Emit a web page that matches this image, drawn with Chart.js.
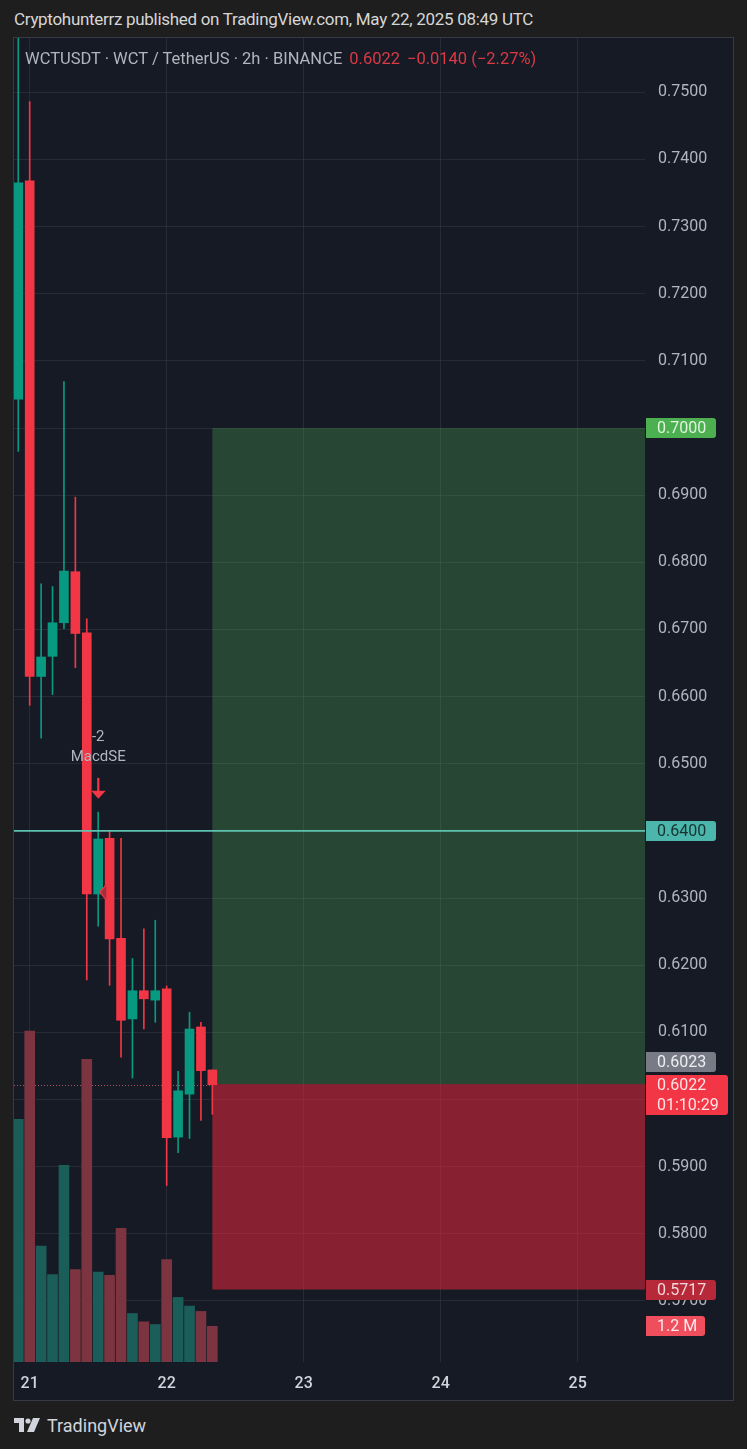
<!DOCTYPE html>
<html>
<head>
<meta charset="utf-8">
<script src="https://cdn.jsdelivr.net/npm/chart.js@4.4.1/dist/chart.umd.min.js"></script>
<style>
  html, body { margin: 0; padding: 0; background: #1e1e1e; width: 747px; height: 1449px; overflow: hidden; }
  body { position: relative; font-family: Roboto, "Noto Sans", sans-serif; }
  #header { position: absolute; left: 14px; top: 9px; font-size: 17px; color: #d6d6d6; white-space: nowrap; letter-spacing: -0.3px; }
  #pane { position: absolute; left: 13px; top: 37px; width: 719px; height: 1362px; border: 1px solid #363a45; }
  #pane canvas { position: absolute; left: 0; top: 0; }
  #legend { position: absolute; left: 11px; top: 11px; font-size: 16.5px; color: #b2b5be; white-space: nowrap; }
  #legend .chg { color: #d93a46; margin-left: 7px; }
  #footer { position: absolute; left: 14px; top: 1413px; height: 24px; display: flex; align-items: center; color: #d1d4dc; font-size: 18px; }
  #footer svg { margin-right: 7px; }
</style>
</head>
<body>
<div id="header">Cryptohunterrz published on TradingView.com, May 22, 2025 08:49 UTC</div>
<div id="pane">
  <canvas id="chart" width="719" height="1362"></canvas>
  <div id="legend">WCTUSDT · WCT / TetherUS · 2h · BINANCE<span class="chg">0.6022</span><span class="chg">−0.0140 (−2.27%)</span></div>
</div>
<div id="footer">
  <svg width="26" height="14" viewBox="0 0 26 14">
    <path d="M0 0 H10 V14 H5 V5 H0 Z" fill="#d1d4dc"/>
    <circle cx="14" cy="3" r="2.6" fill="#d1d4dc"/>
    <path d="M19 0 H26 L20 14 H13 Z" fill="#d1d4dc"/>
  </svg>
  <span>TradingView</span>
</div>
<script>
// ---- data: 2h candles, x in hours from May 21 00:00 UTC ----
const hours = [-2, 0, 2, 4, 6, 8, 10, 12, 14, 16, 18, 20, 22, 24, 26, 28, 30, 32];
const opens  = [0.7043, 0.7368, 0.6630, 0.6660, 0.6710, 0.6786, 0.6695, 0.6306, 0.6389, 0.6240, 0.6120, 0.6162, 0.6148, 0.6165, 0.5944, 0.6008, 0.6108, 0.6044];
const closes = [0.7365, 0.6630, 0.6659, 0.6710, 0.6787, 0.6694, 0.6306, 0.6388, 0.6239, 0.6118, 0.6162, 0.6150, 0.6162, 0.5943, 0.6013, 0.6105, 0.6043, 0.6022];
const highs  = [0.7600, 0.7486, 0.6768, 0.6764, 0.7069, 0.6897, 0.6716, 0.6428, 0.6400, 0.6389, 0.6210, 0.6254, 0.6267, 0.6169, 0.6042, 0.6130, 0.6115, 0.6044];
const lows   = [0.6965, 0.6587, 0.6538, 0.6603, 0.6701, 0.6643, 0.6178, 0.6258, 0.6170, 0.6063, 0.6032, 0.6105, 0.6115, 0.5872, 0.5921, 0.5942, 0.5969, 0.5978];
const volumes = [8.16, 11.12, 3.90, 2.94, 6.61, 3.11, 10.17, 3.02, 2.91, 4.49, 1.63, 1.35, 1.26, 3.44, 2.17, 1.88, 1.70, 1.20]; // millions

const dayTicks = [0, 24, 48, 72, 96];
const dayLabels = ['21', '22', '23', '24', '25'];
const priceTicks = [0.57, 0.58, 0.59, 0.60, 0.61, 0.62, 0.63, 0.64, 0.65, 0.66, 0.67, 0.68, 0.69, 0.70, 0.71, 0.72, 0.73, 0.74, 0.75];

// long position tool
const posStartHour = 32;
const targetPrice = 0.7000;
const entryPrice = 0.6023;
const stopPrice = 0.5717;
const levelPrice = 0.6400;
const lastPrice = 0.6022;

// signal marks
const signalHour = 12;
const signalText = ['-2', 'MacdSE'];
const signalTextPrices = [0.6540, 0.6510];
const signalArrowTop = 0.6479;
const signalArrowBottom = 0.6448;
const exitHour = 13;
const exitPrice = 0.6309;

const UP = '#089981', DOWN = '#f23645';
const UP_VOL = '#1b5d59', DOWN_VOL = '#7c3540';
const isUp = i => closes[i] >= opens[i];

const overlay = {
  id: 'overlay',
  beforeDraw(chart) {
    const ctx = chart.ctx;
    ctx.save();
    ctx.fillStyle = '#161a25';
    ctx.fillRect(0, 0, chart.width, chart.height);
    ctx.restore();
  },
  beforeDatasetsDraw(chart) {
    const { ctx, chartArea: a, scales: { x, y } } = chart;
    const x0 = x.getPixelForValue(posStartHour);
    ctx.save();
    ctx.fillStyle = 'rgba(80,175,90,0.30)';
    ctx.fillRect(x0, y.getPixelForValue(targetPrice), a.right - x0, y.getPixelForValue(entryPrice) - y.getPixelForValue(targetPrice));
    ctx.fillStyle = 'rgba(230,40,60,0.55)';
    ctx.fillRect(x0, y.getPixelForValue(entryPrice), a.right - x0, y.getPixelForValue(stopPrice) - y.getPixelForValue(entryPrice));
    // last price dotted line
    ctx.strokeStyle = 'rgba(242,110,120,0.7)';
    ctx.lineWidth = 1;
    ctx.setLineDash([1, 2]);
    const yl = Math.round(y.getPixelForValue(lastPrice)) + 0.5;
    ctx.beginPath();
    ctx.moveTo(a.left, yl);
    ctx.lineTo(x0, yl);
    ctx.stroke();
    ctx.restore();
  },
  afterDatasetsDraw(chart) {
    const { ctx, chartArea: a, scales: { x, y } } = chart;
    ctx.save();
    // horizontal level
    ctx.strokeStyle = '#5fc2b1';
    ctx.lineWidth = 1.6;
    const yv = y.getPixelForValue(levelPrice);
    ctx.beginPath();
    ctx.moveTo(a.left, yv);
    ctx.lineTo(a.right, yv);
    ctx.stroke();

    // signal label + arrow
    const sx = x.getPixelForValue(signalHour);
    ctx.fillStyle = '#b2b5be';
    ctx.font = '15px Roboto';
    ctx.textAlign = 'center';
    ctx.textBaseline = 'middle';
    signalText.forEach((t, i) => ctx.fillText(t, sx, y.getPixelForValue(signalTextPrices[i])));
    const at = y.getPixelForValue(signalArrowTop), ab = y.getPixelForValue(signalArrowBottom);
    ctx.fillStyle = DOWN;
    ctx.fillRect(sx - 1, at, 2.2, ab - at - 6);
    ctx.beginPath();
    ctx.moveTo(sx - 7, ab - 8);
    ctx.lineTo(sx + 7.5, ab - 8);
    ctx.lineTo(sx + 0.2, ab);
    ctx.closePath();
    ctx.fill();

    // exit triangle
    const tx = x.getPixelForValue(exitHour), ty = y.getPixelForValue(exitPrice);
    ctx.beginPath();
    ctx.moveTo(tx - 4, ty);
    ctx.lineTo(tx + 3, ty - 8);
    ctx.lineTo(tx + 3, ty + 9);
    ctx.closePath();
    ctx.fillStyle = '#a0303b';
    ctx.fill();
    ctx.strokeStyle = DOWN;
    ctx.lineWidth = 1.2;
    ctx.stroke();
    ctx.restore();
  },
  afterDraw(chart) {
    const { ctx, chartArea: a, scales: { y, yv } } = chart;
    ctx.save();
    ctx.font = '16px Roboto';
    ctx.textBaseline = 'middle';
    ctx.textAlign = 'left';
    const badge = (py, lines, bg, fg, w) => {
      const h = lines.length * 20;
      const top = Math.round(py - h / 2);
      ctx.fillStyle = bg;
      ctx.beginPath();
      ctx.roundRect(a.right + 1, top, w, h, [0, 3, 3, 0]);
      ctx.fill();
      ctx.fillStyle = fg;
      lines.forEach((t, i) => ctx.fillText(t, a.right + 12, top + 10 + i * 20 + 0.5));
    };
    badge(y.getPixelForValue(targetPrice), [targetPrice.toFixed(4)], '#4caf50', '#dff3df', 70);
    badge(y.getPixelForValue(levelPrice), [levelPrice.toFixed(4)], '#4db6ac', '#14332f', 70);
    badge(y.getPixelForValue(stopPrice), [stopPrice.toFixed(4)], '#b72838', '#f3d6da', 70);
    badge(y.getPixelForValue(entryPrice) - 22.5, [entryPrice.toFixed(4)], '#787b86', '#eceef2', 70);
    badge(y.getPixelForValue(lastPrice) + 10, [lastPrice.toFixed(4), '01:10:29'], '#f23645', '#ffe3e6', 82);
    badge(yv.getPixelForValue(volumes[volumes.length - 1]), [volumes[volumes.length - 1].toFixed(1) + ' M'], '#ef4f5c', '#ffe9eb', 59);
    ctx.restore();
  }
};

const zeroPad = s => { s.paddingTop = 0; s.paddingBottom = 0; s.paddingLeft = 0; s.paddingRight = 0; };

new Chart(document.getElementById('chart'), {
  type: 'bar',
  data: {
    datasets: [
      {
        label: 'Volume',
        yAxisID: 'yv',
        data: hours.map((h, i) => ({ x: h, y: volumes[i] })),
        backgroundColor: hours.map((h, i) => isUp(i) ? UP_VOL : DOWN_VOL),
        barThickness: 10,
        grouped: false,
        order: 3
      },
      {
        label: 'Wicks',
        yAxisID: 'y',
        data: hours.map((h, i) => ({ x: h, y: [lows[i], highs[i]] })),
        backgroundColor: hours.map((h, i) => isUp(i) ? UP : DOWN),
        barThickness: 1,
        grouped: false,
        order: 2
      },
      {
        label: 'Bodies',
        yAxisID: 'y',
        data: hours.map((h, i) => ({ x: h, y: [opens[i], closes[i]] })),
        backgroundColor: hours.map((h, i) => isUp(i) ? UP : DOWN),
        barThickness: 9,
        minBarLength: 1,
        grouped: false,
        order: 1
      }
    ]
  },
  options: {
    responsive: false,
    animation: false,
    devicePixelRatio: 1,
    layout: { padding: 0 },
    plugins: { legend: { display: false }, tooltip: { enabled: false } },
    scales: {
      x: {
        type: 'linear',
        min: -2.75,
        max: 107.8,
        offset: false,
        grid: { color: 'rgba(54,58,69,0.55)', drawTicks: false, offset: false },
        border: { display: false },
        afterBuildTicks: s => { s.ticks = dayTicks.map(v => ({ value: v })); },
        afterFit: s => { s.height = 38; zeroPad(s); },
        ticks: {
          color: '#d1d4dc',
          font: { family: 'Roboto', size: 16, weight: '500' },
          padding: 12,
          maxRotation: 0,
          autoSkip: false,
          callback: (v, i) => dayLabels[i]
        }
      },
      y: {
        position: 'right',
        min: 0.56091,
        max: 0.75808,
        grid: { color: 'rgba(54,58,69,0.55)', drawTicks: false },
        border: { display: false },
        afterBuildTicks: s => { s.ticks = priceTicks.map(v => ({ value: v })); },
        afterFit: s => { s.width = 88; zeroPad(s); },
        ticks: {
          color: '#b2b5be',
          font: { family: 'Roboto', size: 16 },
          padding: 13,
          autoSkip: false,
          callback: v => v.toFixed(4)
        }
      },
      yv: {
        display: false,
        min: 0,
        max: 44.5
      }
    }
  },
  plugins: [overlay]
});
</script>
</body>
</html>
